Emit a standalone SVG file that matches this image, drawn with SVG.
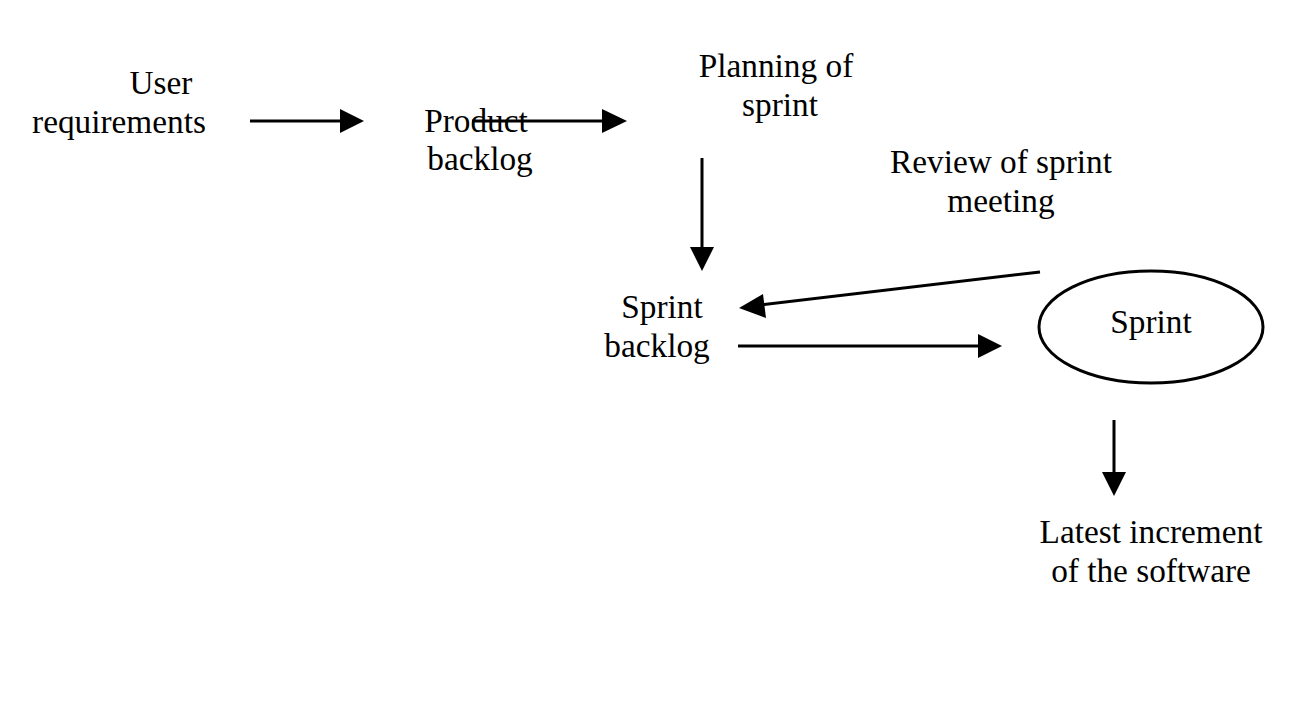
<svg xmlns="http://www.w3.org/2000/svg" width="1298" height="717" viewBox="0 0 1298 717">
<defs>
<style>
text{font-family:"Liberation Serif","Times New Roman",serif;font-size:33.3px;fill:#000;text-anchor:middle}
.c line{stroke:#000;stroke-width:3}
.c polygon{fill:#000}
</style>
</defs>
<rect width="1298" height="717" fill="#fff"/>
<g id="user-requirements"><text x="161" y="94">User</text><text x="119" y="133">requirements</text></g>
<g id="product-backlog"><text x="476" y="132">Product</text><text x="480" y="170">backlog</text></g>
<g id="planning-of-sprint"><text x="776" y="77">Planning of</text><text x="780" y="116">sprint</text></g>
<g id="review-of-sprint-meeting"><text x="1001" y="173">Review of sprint</text><text x="1001" y="212">meeting</text></g>
<g id="sprint-backlog"><text x="662" y="318">Sprint</text><text x="657" y="357">backlog</text></g>
<g id="sprint"><ellipse cx="1151" cy="327" rx="112" ry="56" fill="none" stroke="#000" stroke-width="3"/><text x="1151" y="333">Sprint</text></g>
<g id="latest-increment"><text x="1151" y="543">Latest increment</text><text x="1151" y="582">of the software</text></g>
<g class="c" id="connectors">
<line x1="250" y1="121" x2="342" y2="121"/><polygon points="340,109 364,121 340,133"/>
<line x1="472" y1="121" x2="604" y2="121"/><polygon points="602,109 627,121 602,133"/>
<line x1="702" y1="158" x2="702" y2="249"/><polygon points="690,247 702,271 714,247"/>
<line x1="1040" y1="272" x2="760" y2="305"/><polygon points="739,308 763,294 766,318"/>
<line x1="738" y1="346" x2="980" y2="346"/><polygon points="978,334 1002,346 978,358"/>
<line x1="1114" y1="420" x2="1114" y2="474"/><polygon points="1102,472 1114,496 1126,472"/>
</g>
</svg>
